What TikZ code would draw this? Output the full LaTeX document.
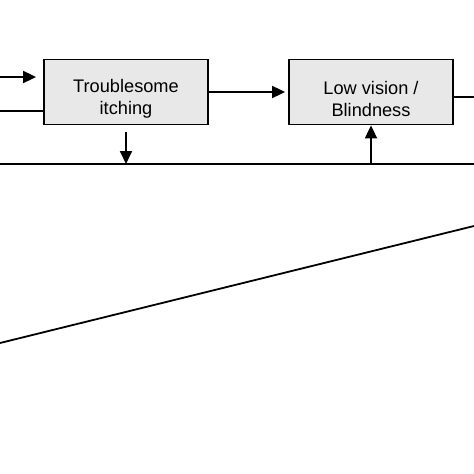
\documentclass[tikz,border=0pt]{standalone}
\usepackage{fontspec}
\setmainfont{Liberation Sans}
\usetikzlibrary{arrows.meta}

\begin{document}
\begin{tikzpicture}[x=1pt,y=-1pt,line width=1.8pt,>={Triangle[length=13pt,width=12pt]},
    box/.style={rectangle,draw,fill=black!9,minimum width=164pt,minimum height=65pt,
        inner sep=0pt,align=center,font=\fontsize{18.2}{22}\selectfont}]
    \useasboundingbox (0,0) rectangle (474,474);
    \clip (0,0) rectangle (474,474);
    \path
    (126,92) node[box](itch) {\rule{0pt}{27pt}Troublesome\\itching}
    (371,92) node[box](vision) {\rule{0pt}{27pt}Low vision /\\Blindness};

    \coordinate (inA) at (0,77);
    \coordinate (inB) at (0,111);
    \coordinate (outA) at (474,97);
    \coordinate (railL) at (0,164);
    \coordinate (railR) at (474,164);
    \coordinate (slopeL) at (0,343);
    \coordinate (slopeR) at (474,226);

    \draw[->,shorten >=7pt] (inA) -- (inA -| itch.west);
    \draw (inB) -- (inB -| itch.west);
    \draw[->,shorten >=3pt] (itch.east) -- (vision.west);
    \draw (vision.east |- outA) -- (outA);

    \draw (railL) -- (railR);
    \draw[->,shorten <=7pt] (itch.south) -- (itch.south |- railL);
    \draw[->] (vision.south |- railL) -- (vision.south);

    \draw (slopeL) -- (slopeR);
\end{tikzpicture}
\end{document}
